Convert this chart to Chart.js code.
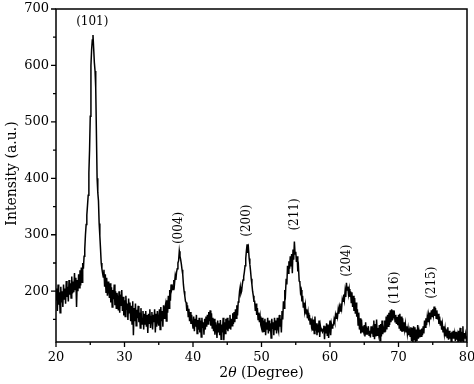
<!DOCTYPE html>
<html>
<head>
<meta charset="utf-8">
<script src="https://cdn.jsdelivr.net/npm/chart.js@4/dist/chart.umd.min.js"></script>
<style>
html,body{margin:0;padding:0;background:#fff;}
#wrap{width:474px;height:384px;position:relative;}
</style>
</head>
<body>
<div id="wrap"><canvas id="c" width="474" height="384"></canvas></div>
<script>
// ---- data ----
const angleStart = 20;      // 2θ of first sample (degree)
const angleStep = 0.1;      // sampling step (degree)
const intensity = [
// 20
185,205,165,212,176,198,162,208,180,200,
// 21
172,212,186,205,178,218,190,208,182,220,
// 22
194,214,188,226,196,217,198,232,203,224,
// 23
172,220,200,230,206,237,210,242,216,250,
// 24
240,262,275,300,318,335,352,370,410,450,
// 25
510,600,628,645,654,630,605,590,560,480,
// 26
400,375,360,320,298,275,250,240,232,225,
// 27
238,208,230,198,224,192,217,203,188,214,
// 28
180,207,172,202,186,212,175,200,170,197,
// 29
186,166,200,162,194,175,202,165,190,157,
// 30
184,155,192,167,178,149,187,162,180,147,
// 31
174,142,182,122,170,147,178,139,167,152,
// 32
174,145,162,135,170,147,142,165,132,160,
// 33
142,165,137,158,126,160,143,168,135,155,
// 34
163,132,158,145,168,127,160,137,165,147,
// 35
139,168,132,172,147,165,137,175,152,170,
// 36
177,147,184,162,192,170,202,183,212,203,
// 37
208,203,220,213,227,220,234,240,250,254,
// 38
271,262,256,248,238,230,212,200,192,182,
// 39
180,165,175,155,169,147,163,142,158,145,
// 40
135,155,129,151,137,158,125,149,132,153,
// 41
127,148,119,153,135,145,123,151,132,155,
// 42
137,158,142,163,147,166,139,161,135,153,
// 43
129,151,123,145,135,117,148,127,143,122,
// 44
149,115,141,127,153,113,145,125,151,132,
// 45
153,129,148,135,158,132,151,139,161,142,
// 46
163,145,168,152,175,157,181,186,200,208,
// 47
196,200,212,220,226,234,245,258,272,283,
// 48
268,275,258,248,236,222,212,200,192,182,
// 49
182,165,178,158,170,150,162,145,155,140,
// 50
135,153,127,148,129,151,122,145,132,153,
// 51
125,148,129,143,117,151,133,145,122,153,
// 52
132,148,125,153,135,129,158,137,151,127,
// 53
165,150,182,170,202,195,222,212,245,232,
// 54
253,240,262,244,266,232,274,256,288,266,
// 55
270,252,262,235,242,218,216,198,202,182,
// 56
192,172,180,165,175,160,168,152,162,148,
// 57
158,142,152,138,146,130,150,125,155,130,
// 58
143,122,141,127,148,119,138,130,131,128,
// 59
133,139,115,138,125,143,122,141,117,135,
// 60
148,122,142,135,140,140,150,145,158,152,
// 61
162,155,168,160,172,165,178,170,186,182,
// 62
194,185,200,190,215,202,208,195,204,190,
// 63
200,180,198,172,192,165,188,160,180,155,
// 64
168,140,162,132,152,125,150,128,138,130,
// 65
140,120,145,124,132,128,138,122,130,118,
// 66
138,125,132,120,148,115,142,120,150,122,
// 67
135,125,140,112,142,120,148,124,135,128,
// 68
148,128,155,132,158,138,162,140,166,145,
// 69
168,148,166,156,160,146,158,142,154,140,
// 70
158,135,160,130,155,128,152,130,145,132,
// 71
142,128,138,124,134,122,130,120,136,112,
// 72
135,110,138,114,136,108,132,112,140,116,
// 73
128,118,132,120,134,122,138,125,148,136,
// 74
152,140,155,145,158,148,162,150,166,155,
// 75
168,158,173,156,170,152,166,150,160,142,
// 76
155,140,148,132,142,128,138,124,134,120,
// 77
132,118,136,114,130,116,126,110,128,116,
// 78
130,116,125,112,128,114,122,108,130,112,
// 79
135,110,128,112,138,108,126,116,124,114,
// 80
120
];
const xTickValues = [20,30,40,50,60,70,80];
const xMinorValues = [25,35,45,55,65,75];
const yTickValues = [200,300,400,500,600,700];
const yMinorValues = [150,250,350,450,550,650];
const peakNames  = ['(101)','(004)','(200)','(211)','(204)','(116)','(215)'];
const peakAngles = [25.3, 37.9, 47.9, 54.9, 62.5, 69.4, 74.9];

const xTitleParts = ['2', 'θ', ' (Degree)'];
const yTitle = 'Intensity (a.u.)';

// ---- build dataset ----
const points = intensity.map((v, i) => ({x: +(angleStart + i * angleStep).toFixed(2), y: v}));

const FONT = '"DejaVu Serif", "Liberation Serif", serif';

const decor = {
  id: 'decor',
  afterDraw(chart, args, opts) {
    const {ctx, chartArea: a, scales: {x, y}} = chart;
    ctx.save();
    ctx.strokeStyle = '#000';
    ctx.fillStyle = '#000';
    // frame
    ctx.lineWidth = 1.5;
    ctx.strokeRect(a.left, a.top, a.right - a.left, a.bottom - a.top);
    // ticks (outward)
    ctx.lineWidth = 1.3;
    ctx.beginPath();
    xTickValues.forEach(v => { const p = x.getPixelForValue(v); ctx.moveTo(p, a.bottom); ctx.lineTo(p, a.bottom + 5); });
    xMinorValues.forEach(v => { const p = x.getPixelForValue(v); ctx.moveTo(p, a.bottom); ctx.lineTo(p, a.bottom + 3); });
    yTickValues.forEach(v => { const p = y.getPixelForValue(v); ctx.moveTo(a.left, p); ctx.lineTo(a.left - 5, p); });
    yMinorValues.forEach(v => { const p = y.getPixelForValue(v); ctx.moveTo(a.left, p); ctx.lineTo(a.left - 3, p); });
    ctx.stroke();

    // peak labels
    ctx.font = '12px ' + FONT;
    ctx.textAlign = 'center';
    ctx.textBaseline = 'middle';
    peakNames.forEach((name, i) => {
      const px = x.getPixelForValue(peakAngles[i]);
      const py = y.getPixelForValue(opts.labelLevels[i]);
      if (i === 0) {
        ctx.fillText(name, px, py);
      } else {
        ctx.save();
        ctx.translate(px, py);
        ctx.rotate(-Math.PI / 2);
        ctx.fillText(name, 0, 0);
        ctx.restore();
      }
    });

    // x title with italic theta
    const fs = 14;
    const fonts = [fs + 'px ' + FONT, 'italic ' + fs + 'px ' + FONT, fs + 'px ' + FONT];
    let total = 0;
    const widths = xTitleParts.map((t, i) => { ctx.font = fonts[i]; const w = ctx.measureText(t).width; total += w; return w; });
    let cx = (a.left + a.right) / 2 - total / 2;
    ctx.textAlign = 'left';
    ctx.textBaseline = 'middle';
    xTitleParts.forEach((t, i) => { ctx.font = fonts[i]; ctx.fillText(t, cx, 373); cx += widths[i]; });

    // y title
    ctx.font = fs + 'px ' + FONT;
    ctx.textAlign = 'center';
    ctx.save();
    ctx.translate(12, (a.top + a.bottom) / 2 - 2);
    ctx.rotate(-Math.PI / 2);
    ctx.fillText(yTitle, 0, 0);
    ctx.restore();
    ctx.restore();
  }
};

new Chart(document.getElementById('c'), {
  type: 'line',
  data: {
    datasets: [{
      data: points,
      borderColor: '#000',
      borderWidth: 1.5,
      pointRadius: 0,
      tension: 0,
      fill: false
    }]
  },
  options: {
    responsive: false,
    animation: false,
    events: [],
    layout: { padding: { top: 9, right: 7, left: 0, bottom: 0 } },
    plugins: {
      legend: { display: false },
      tooltip: { enabled: false },
      decor: { labelLevels: [677, 312, 325, 336, 254, 206, 215] }
    },
    scales: {
      x: {
        type: 'linear',
        min: 20, max: 80,
        grid: { display: false, drawTicks: false },
        border: { display: false },
        afterBuildTicks: s => { s.ticks = xTickValues.map(v => ({value: v})); },
        afterFit: s => { s.height = 42; s.paddingLeft = 0; s.paddingRight = 0; },
        ticks: { color: '#000', font: { family: FONT, size: 13 }, padding: 8, maxRotation: 0, autoSkip: false }
      },
      y: {
        type: 'linear',
        min: 110, max: 700,
        grid: { display: false, drawTicks: false },
        border: { display: false },
        afterBuildTicks: s => { s.ticks = yTickValues.map(v => ({value: v})); },
        afterFit: s => { s.width = 56; s.paddingTop = 0; s.paddingBottom = 0; },
        ticks: { color: '#000', font: { family: FONT, size: 13 }, padding: 7, autoSkip: false }
      }
    }
  },
  plugins: [decor]
});
</script>
</body>
</html>
